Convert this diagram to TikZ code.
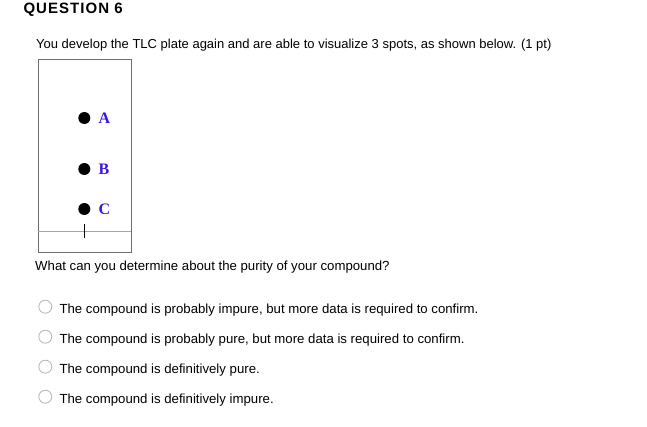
\documentclass[tikz,border=0pt]{standalone}
\usepackage{fontspec}
\setmainfont{Liberation Sans}
\newfontfamily\spotfont{Liberation Serif}
\newfontfamily\headfont[LetterSpace=7]{Liberation Sans}
\definecolor{spotlbl}{RGB}{60,20,230}
\definecolor{platebd}{RGB}{110,110,110}
\definecolor{radiobd}{RGB}{185,185,185}
\tikzset{
  txt/.style={anchor=base west, inner sep=0pt, font=\fontsize{13}{15}\selectfont},
  choix/.style={txt, font=\fontsize{13.2}{15}\selectfont},
  spot/.style={circle, fill=black, minimum size=12pt, inner sep=0pt},
  spotlab/.style={anchor=base west, inner sep=0pt, text=spotlbl, font=\spotfont\bfseries\fontsize{16}{18}\selectfont},
  radio/.style={circle, draw=radiobd, line width=0.9pt, minimum size=13pt, inner sep=0pt}
}

\begin{document}
\begin{tikzpicture}[x=1pt,y=-1pt]
      \useasboundingbox (0,0) rectangle (647,427);

      %titre
      \node (titre) at (23.3,13.3) [anchor=base west, inner sep=0pt] {\headfont\bfseries\fontsize{15}{17}\selectfont QUESTION 6};
      \node (enonce) at (36,48.3) [txt] {You develop the TLC plate again and are able to visualize 3 spots, as shown below. (1 pt)};

      %plaque
      \draw [color=platebd, line width=0.9pt] (38.3,59) rectangle (131,252);
      %ligne de depot
      \draw [color=gray!70, line width=0.9pt] (38.3,231) -- (131,231);
      \coordinate (depothaut) at (84.3,224);
      \coordinate (depotbas) at (84.3,238);
      \draw [line width=0.6pt] (depothaut) -- (depotbas);

      %taches
      \node (A) at (84.3,118) [spot] {};
      \node (B) at (84.3,169) [spot] {};
      \node (C) at (84.3,209) [spot] {};
      \node (labA) at (98.5,124) [spotlab] {A};
      \node (labB) at (98.5,175) [spotlab] {B};
      \node (labC) at (98.5,215) [spotlab] {C};

      %question
      \node (question) at (35,271) [choix] {What can you determine about the purity of your compound?};

      %reponses
      \node (r1) at (45.3,306.7) [radio] {};
      \node (t1) at (59.3,313.3) [choix] {The compound is probably impure, but more data is required to confirm.};
      \node (r2) at (45.3,336.7) [radio] {};
      \node (t2) at (59.3,343.3) [choix] {The compound is probably pure, but more data is required to confirm.};
      \node (r3) at (45.3,366.7) [radio] {};
      \node (t3) at (59.3,373.3) [choix] {The compound is definitively pure.};
      \node (r4) at (45.3,396.7) [radio] {};
      \node (t4) at (59.3,403.3) [choix] {The compound is definitively impure.};
    \end{tikzpicture}
\end{document}
